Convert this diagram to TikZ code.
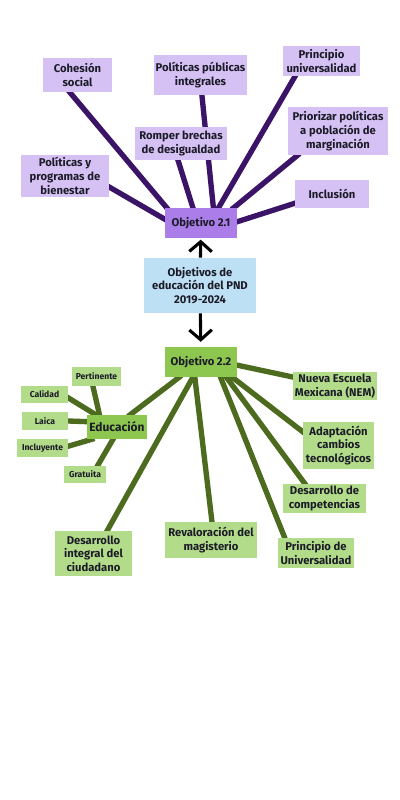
\documentclass[tikz,border=0pt]{standalone}
\usepackage{fontspec}
\setmainfont{Fira Sans}
\usepackage{tikz}
\usetikzlibrary{arrows.meta}
\usetikzlibrary{backgrounds}
\definecolor{ink}{HTML}{1C1C28}
\definecolor{lilac}{HTML}{D6C1F5}
\definecolor{violet}{HTML}{AA7DE8}
\definecolor{plum}{HTML}{3B1468}
\definecolor{sky}{HTML}{BEE0F5}
\definecolor{lime}{HTML}{8DC750}
\definecolor{sage}{HTML}{B3DC8A}
\definecolor{moss}{HTML}{4C6B1E}

\begin{document}
\begin{tikzpicture}[x=0.025cm,y=-0.025cm,
	every node/.style={font=\bfseries\fontsize{8}{9.7}\selectfont,text=ink,align=center,inner sep=0pt},
	boxsize/.style 2 args={minimum width=#1*0.025cm,minimum height=#2*0.025cm},
	small/.style={font=\bfseries\fontsize{6.1}{7}\selectfont},
	plink/.style={draw=plum,line width=3.8pt,shorten <=-2pt,shorten >=-2pt},
	glink/.style={draw=moss,line width=3.8pt,shorten <=-2pt,shorten >=-2pt},
	arr/.style={draw=black,line width=2.2pt,-{Straight Barb[length=7pt,width=16pt]}}]
	\useasboundingbox (0,0) rectangle (400,800);
	\node[fill=lilac,boxsize={69}{34}] (coh) at (77.5,75) {Cohesión\\social};
	\node[fill=lilac,boxsize={93}{40}] (ppi) at (200.5,75) {Políticas públicas\\integrales};
	\node[fill=lilac,boxsize={77}{30}] (puni) at (321.5,61) {Principio\\universalidad};
	\node[fill=lilac,boxsize={100}{48}] (prio) at (338,131) {Priorizar políticas\\a población de\\marginación};
	\node[fill=lilac,boxsize={92}{33}] (rom) at (181,143.5) {Romper brechas\\de desigualdad};
	\node[fill=lilac,boxsize={88}{42}] (pyp) at (65,176) {Políticas y\\programas de\\bienestar};
	\node[fill=lilac,boxsize={74}{28}] (inc) at (332,194) {Inclusión};
	\node[fill=violet,boxsize={72}{30}] (obj1) at (201,223) {Objetivo 2.1};
	\node[fill=sky,boxsize={112}{55}] (pnd) at (200,285.5) {Objetivos de\\educación del PND\\2019-2024};
	\node[fill=lime,boxsize={72}{30}] (obj2) at (201,362) {Objetivo 2.2};
	\node[fill=sage,boxsize={84}{28}] (nem) at (335,386) {Nueva Escuela\\Mexicana (NEM)};
	\node[fill=sage,boxsize={71}{47}] (adap) at (338.5,445.5) {Adaptación\\cambios\\tecnológicos};
	\node[fill=sage,boxsize={83}{29}] (comp) at (324.5,498.5) {Desarrollo de\\competencias};
	\node[fill=sage,boxsize={76}{30}] (univ) at (316,553) {Principio de\\Universalidad};
	\node[fill=sage,boxsize={92}{36}] (mag) at (211,540) {Revaloración del\\magisterio};
	\node[fill=sage,boxsize={77}{45}] (ciud) at (93.5,553.5) {Desarrollo\\integral del\\ciudadano};
	\node[fill=lime,boxsize={60}{24},font=\bfseries\fontsize{8.5}{10}\selectfont] (edu) at (117,427) {Educación};
	\node[fill=sage,boxsize={49}{19},small] (pert) at (96.5,376.5) {Pertinente};
	\node[fill=sage,boxsize={47}{17},small] (cal) at (44.5,394.5) {Calidad};
	\node[fill=sage,boxsize={46}{18},small] (lai) at (45,421) {Laica};
	\node[fill=sage,boxsize={51}{18},small] (incl) at (42.5,448) {Incluyente};
	\node[fill=sage,boxsize={42}{17},small] (grat) at (85,474.5) {Gratuita};
	\begin{scope}[on background layer]
	\draw[plink] (pyp.-14) -- (obj1.174);
	\draw[plink] (coh.-114) -- (obj1.156);
	\draw[plink] (rom.-100) -- (obj1.118);
	\draw[plink] (ppi.-86) -- (obj1.51);
	\draw[plink] (puni.-150) -- (obj1.41);
	\draw[plink] (prio.-149) -- (obj1.25);
	\draw[plink] (inc.-166) -- (obj1.2);
	\draw[glink] (obj2.-5) -- (nem.168);
	\draw[glink] (obj2.-26) -- (adap.159);
	\draw[glink] (obj2.-31) -- (comp.143);
	\draw[glink] (obj2.-38) -- (univ.154);
	\draw[glink] (obj2.-112) -- (mag.87);
	\draw[glink] (obj2.-118) -- (ciud.59);
	\draw[glink] (obj2.-145) -- (edu.43);
	\draw[glink] (pert.-110) -- (edu.145);
	\draw[glink] (cal.-8) -- (edu.150);
	\draw[glink] (lai.east) -- (edu.170);
	\draw[glink] (incl.4) -- (edu.-154);
	\draw[glink] (grat.35) -- (edu.-108);
	\end{scope}
	\draw[arr,shorten >=1pt] (pnd) -- (obj1);
	\draw[arr,shorten >=3.5pt] (pnd) -- (obj2);
\end{tikzpicture}
\end{document}
